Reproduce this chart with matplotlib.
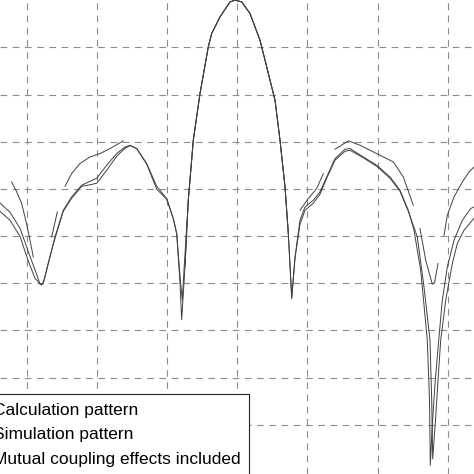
import numpy as np
import matplotlib
matplotlib.use('Agg')
import matplotlib.pyplot as plt

# angle in degrees, level in dB
calc_angle = [-67.63, -64.78, -61.93, -59.08, -57.09, -56.24, -55.29, -53.39, -51.96, -49.59,
              -47.20, -44.35, -41.97, -40.07, -37.22, -34.37, -32.00, -30.58, -28.67, -25.82,
              -22.97, -20.12, -18.24, -17.27, -16.33, -15.85, -14.91, -13.97, -12.54, -10.63,
              -8.27, -7.30, -4.93, -2.08, -0.66, 1.25, 3.62, 6.47, 8.38, 10.75,
              12.17, 13.60, 14.54, 15.51, 16.45, 17.87, 19.30, 21.66, 23.57, 25.48,
              27.85, 30.70, 32.12, 35.91, 39.73, 43.52, 46.37, 48.74, 50.36, 52.27,
              54.15, 54.78, 55.01, 55.49, 56.35, 57.40, 58.43, 59.85, 61.76, 64.13,
              66.52, 67.46]
calc_db = [-21.49, -22.47, -24.17, -27.14, -29.15, -30.10, -30.00, -27.21, -25.09, -22.26,
           -20.85, -19.61, -19.19, -18.87, -17.49, -16.25, -15.55, -15.37, -15.72, -17.31,
           -19.72, -21.02, -23.14, -24.73, -30.00, -33.85, -28.27, -21.20, -14.84, -9.89,
           -4.95, -3.53, -1.77, -0.18, 0.00, -0.18, -1.41, -4.24, -7.07, -10.60,
           -14.84, -19.79, -24.73, -31.62, -27.21, -23.32, -21.91, -21.20, -20.32, -18.73,
           -16.78, -15.79, -15.72, -16.61, -17.49, -18.73, -20.14, -22.26, -24.38, -28.62,
           -36.03, -42.40, -49.29, -45.57, -40.60, -36.03, -31.80, -28.27, -25.44, -23.32,
           -22.08, -21.91]

sim_angle = [-67.63, -64.78, -61.93, -59.65, -57.66, -55.75, -55.09, -53.39, -51.96, -49.59,
             -47.20, -44.35, -41.97, -40.07, -37.22, -34.37, -32.00, -30.58, -28.67, -25.82,
             -22.97, -20.12, -18.24, -17.27, -16.33, -15.68, -15.19, -13.97, -12.54, -10.63,
             -8.27, -7.30, -4.93, -2.08, -0.66, 1.25, 3.62, 6.47, 8.38, 10.75,
             12.17, 13.60, 14.54, 15.51, 16.45, 17.87, 19.30, 21.66, 23.57, 25.48,
             27.85, 30.70, 32.12, 35.91, 39.73, 43.52, 46.37, 48.74, 51.30, 53.21,
             54.92, 55.41, 55.69, 56.49, 57.20, 57.97, 59.40, 61.28, 62.70, 64.61,
             67.46]
sim_db = [-22.37, -23.32, -25.02, -27.56, -29.47, -30.21, -29.68, -27.14, -25.23, -22.37,
          -20.99, -19.72, -19.56, -19.40, -18.02, -16.53, -15.69, -15.42, -15.72, -17.38,
          -20.03, -21.09, -23.14, -24.73, -29.15, -31.80, -28.62, -21.20, -14.84, -9.89,
          -4.95, -3.53, -1.77, -0.18, 0.00, -0.18, -1.41, -4.24, -7.07, -10.60,
          -14.84, -19.79, -24.73, -31.48, -27.35, -23.74, -22.26, -21.52, -20.56, -18.87,
          -16.96, -16.01, -15.90, -16.70, -17.60, -18.87, -20.25, -22.37, -25.09, -30.39,
          -36.03, -42.40, -48.60, -44.52, -40.28, -36.03, -31.80, -27.91, -25.79, -24.38,
          -23.11]

# mutual coupling curve is drawn in pieces (nan = gap)
mc_angle = [-64.30, -62.87, -61.45, -60.03, -59.08, -58.14, np.nan,
            -52.90, -51.30, np.nan,
            -49.11, -47.20, -44.83, -41.97, -39.12, -36.28, -32.49, np.nan,
            -14.91, -13.97, -12.54, -10.63, -8.27, -7.30, -4.93, -2.08, -0.66, 1.25,
            3.62, 6.47, 8.38, 10.75, 12.17, 13.60, 14.54, np.nan,
            17.87, 20.24, 22.63, 24.51, np.nan,
            27.85, 31.64, 34.97, 40.67, 44.46, 47.31, 50.16, np.nan,
            52.07, 53.70, 55.58, 56.26, 57.20, np.nan,
            58.91, 59.85, 61.76, 64.13, 66.04, 67.46]
mc_db = [-19.26, -20.32, -21.55, -23.74, -25.44, -27.21, np.nan,
         -25.09, -22.44, np.nan,
         -19.72, -18.37, -17.31, -16.61, -16.25, -15.72, -14.91, np.nan,
         -28.27, -21.20, -14.84, -9.89, -4.95, -3.53, -1.77, -0.18, 0.00, -0.18,
         -1.41, -4.24, -7.07, -10.60, -14.84, -19.79, -24.73, np.nan,
         -22.26, -21.02, -19.96, -18.37, np.nan,
         -15.79, -14.91, -15.37, -16.43, -17.14, -18.73, -21.73, np.nan,
         -24.20, -27.56, -30.10, -29.86, -27.91, np.nan,
         -24.91, -22.79, -20.85, -19.26, -18.20, -17.67]

labels = ['Calculation pattern', 'Simulation pattern', 'Mutual coupling effects included']

fig = plt.figure(figsize=(4.74, 4.74), dpi=100)
ax = fig.add_axes([0, 0, 1, 1])

l1, = ax.plot(calc_angle, calc_db, color='#404040', lw=0.7)
l2, = ax.plot(sim_angle, sim_db, color='#404040', lw=0.7)
l3, = ax.plot(mc_angle, mc_db, color='#404040', lw=0.7)

ax.set_xlim(-67.63, 67.46)
ax.set_ylim(-50.21, 0.02)
ax.set_xticks(np.arange(-60, 61, 20))
ax.set_yticks(np.arange(-45, -4, 5))
ax.grid(True, color='0.55', linestyle=(0, (6, 5)), linewidth=0.8)
ax.tick_params(length=0, labelbottom=False, labelleft=False)
for s in ax.spines.values():
    s.set_visible(False)

leg = ax.legend([l1, l2, l3], labels, loc='upper right',
                bbox_to_anchor=(249.3 / 474, 1 - 394 / 474), bbox_transform=fig.transFigure,
                borderaxespad=0, fancybox=False, framealpha=1, edgecolor='#222222',
                prop={'family': 'Liberation Sans', 'size': 12.5}, labelspacing=0.52,
                borderpad=0.52)
leg.get_frame().set_linewidth(0.8)

plt.savefig('out.png', dpi=100)
plt.close()
